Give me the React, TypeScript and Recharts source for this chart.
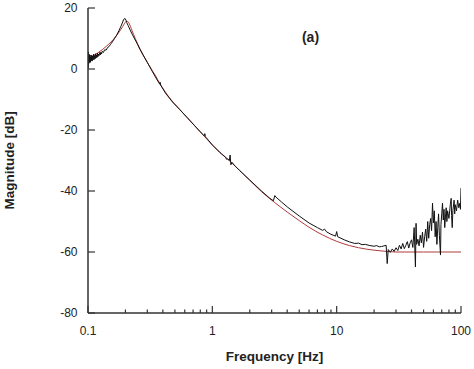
import React from 'react';
import { LineChart, Line, XAxis, YAxis, Label } from 'recharts';

// measured response (black, noisy)
const measFreq = [
  0.1, 0.1004, 0.1008, 0.1012, 0.1015, 0.102, 0.1025, 0.103, 0.104, 0.1048, 0.1055, 0.1062, 0.107, 0.108,
  0.109, 0.11, 0.111, 0.112, 0.113, 0.114, 0.115, 0.116, 0.117, 0.118, 0.119, 0.12, 0.121, 0.1225,
  0.124, 0.1255, 0.127, 0.1285, 0.13, 0.133, 0.136, 0.14, 0.144, 0.148, 0.152, 0.157, 0.163, 0.17, 0.177, 0.184,
  0.19, 0.193, 0.196, 0.199, 0.202, 0.205, 0.21, 0.22, 0.23, 0.24, 0.25, 0.262, 0.28, 0.3, 0.33, 0.36, 0.378, 0.381,
  0.384, 0.42, 0.48, 0.55, 0.63, 0.72, 0.8, 0.86, 0.87, 0.88, 1.0, 1.15, 1.28, 1.3, 1.33, 1.37, 1.39,
  1.41, 1.44, 1.5, 1.66, 2.0, 2.5, 2.9, 3.1, 3.18, 3.25, 3.6, 4.0, 5.0, 6.0, 7.0, 7.7, 8.0, 8.3, 9.0,
  9.8, 10.0, 10.2, 11.5, 12.7, 14, 15, 16, 17, 18.5, 20, 21, 22, 23, 24, 25, 25.5, 26, 27, 28, 29, 30,
  31, 32, 33, 34, 35, 36, 37, 38, 39, 40, 41, 42, 43, 43.5, 44, 45, 46, 47, 48, 49, 50, 51, 52, 53, 54,
  55, 56, 57, 58, 59, 60, 61, 62, 63, 64, 65, 66, 67, 68.4, 69, 70, 71, 72, 73, 74, 75, 76, 77, 78, 80,
  82, 83.4, 84, 85, 86, 88, 89, 90, 92, 94, 96, 98, 99, 100,
];
const measDb = [
  3.0, 0.4, 5.6, 1.6, 4.4, 2.0, 4.8, 2.4, 3.9, 2.2, 4.6, 2.7, 4.5, 2.6,
  4.3, 3.0, 4.9, 3.1, 4.4, 3.3, 5.0, 3.6, 4.6, 3.8, 5.2, 4.0, 4.9, 4.3,
  5.4, 4.6, 5.5, 4.9, 5.8, 5.4, 6.3, 6.2, 7.1, 7.4, 8.1, 8.9, 9.9, 11.1, 12.5, 14.0,
  15.4, 16.1, 16.5, 16.5, 16.0, 15.2, 14.3, 12.5, 10.9, 9.5, 8.1, 6.4, 4.3, 2.2, -0.9, -3.6, -5.0, -4.4,
  -5.3, -7.9, -10.9, -13.4, -16.0, -18.6, -20.6, -21.9, -21.2, -22.2, -24.9, -27.4, -29.0, -29.6, -29.5, -30.0, -28.2,
  -31.4, -30.6, -31.5, -33.3, -36.4, -40.1, -42.4, -43.2, -41.5, -42.0, -43.6, -45.2, -48.2, -50.5, -52.0, -52.9, -52.5, -53.4, -54.2,
  -54.8, -53.3, -55.0, -56.0, -56.7, -57.2, -57.1, -57.6, -57.5, -57.9, -58.1, -57.9, -58.3, -58.2, -58.0, -57.8, -63.8, -59.2, -60.1, -59.0, -59.8, -58.6,
  -59.5, -57.8, -59.0, -57.2, -58.9, -57.8, -56.6, -58.7, -57.0, -56.0, -58.5, -52.0, -64.9, -50.6, -57.5, -55.8, -58.0, -54.5, -57.0, -53.5, -58.5, -55.0, -52.5, -56.5, -50.0,
  -55.5, -51.0, -49.0, -53.0, -44.0, -50.5, -46.5, -55.0, -50.0, -57.5, -52.0, -47.5, -54.5, -61.0, -51.0, -47.5, -44.0, -49.5, -46.0, -52.0, -48.5, -45.5, -50.0, -46.5, -49.0,
  -44.5, -42.4, -48.0, -52.0, -46.5, -43.0, -47.5, -44.5, -46.5, -43.0, -45.5, -44.0, -46.0, -39.0,
];

// fitted model (red, smooth)
const fitFreq = [
  0.1, 0.11, 0.12, 0.13, 0.14, 0.15, 0.16, 0.17, 0.18, 0.19, 0.197, 0.203, 0.208, 0.215, 0.225, 0.24,
  0.262, 0.3, 0.35, 0.379, 0.45, 0.55, 0.7, 0.8, 1.0, 1.4, 1.66, 2.0, 2.5, 3.2, 4.0, 5.0, 6.0, 7.7, 10,
  12.7, 15, 20, 25, 30, 50, 100,
];
const fitDb = [
  3.4, 4.3, 5.3, 6.3, 7.4, 8.5, 9.7, 11.0, 12.4, 13.9, 15.0, 15.6, 15.6, 14.8, 12.8, 10.0,
  6.6, 2.1, -2.3, -4.8, -9.3, -13.4, -18.0, -20.6, -24.9, -30.4, -33.3, -36.5, -40.3, -43.9, -46.9, -49.7, -51.9, -54.4, -56.5,
  -57.9, -58.6, -59.4, -59.8, -60.0, -60.0, -60.0,
];

const xTicks = [
  0.1, 0.2, 0.3, 0.4, 0.5, 0.6, 0.7, 0.8, 0.9, 1, 2, 3, 4, 5, 6, 7, 8, 9,
  10, 20, 30, 40, 50, 60, 70, 80, 90, 100,
];
const xLabels = [0.1, 1, 10, 100];
const yTicks = [-80, -60, -40, -20, 0, 20];

const measured = measFreq.map((f, i) => ({ f, db: measDb[i] }));
const fitted = fitFreq.map((f, i) => ({ f, db: fitDb[i] }));

const axisColor = '#333';
const font = '"Liberation Sans", Arial, sans-serif';

const FreqTick = (props: any) => {
  const { x, y, payload } = props;
  const major = xLabels.includes(payload.value);
  return (
    <g>
      <line x1={x} x2={x} y1={y} y2={y - (major ? 7 : 3.5)} stroke={axisColor} strokeWidth={1.2} />
      {major && (
        <text x={x} y={y + 22} textAnchor="middle" fontSize={12} fontFamily={font} fill="#222">
          {payload.value}
        </text>
      )}
    </g>
  );
};

const DbTick = (props: any) => {
  const { x, y, payload } = props;
  return (
    <g>
      <line x1={x} x2={x + 7} y1={y} y2={y} stroke={axisColor} strokeWidth={1.2} />
      <text x={x - 10.5} y={y + 4.3} textAnchor="end" fontSize={12} fontFamily={font} fill="#222">
        {payload.value}
      </text>
    </g>
  );
};

export default function App() {
  return (
    <div style={{ position: 'fixed', left: 0, top: 0, width: 474, height: 369, background: '#fff' }}>
      <LineChart width={474} height={369} margin={{ top: 8, right: 13, bottom: 0, left: 0 }}>
        <XAxis
          dataKey="f"
          type="number"
          scale="log"
          domain={[0.1, 100]}
          ticks={xTicks}
          interval={0}
          height={56}
          tickSize={0}
          tickMargin={0}
          tickLine={false}
          tick={<FreqTick />}
          stroke={axisColor}
          strokeWidth={1.5}
          allowDataOverflow
        >
          <Label
            content={(p: any) => {
              const vb = p.viewBox;
              return (
                <text x={vb.x + vb.width / 2} y={vb.y + 48} textAnchor="middle" fontSize={13.5} fontWeight="bold" fontFamily={font} fill="#222">
                  Frequency [Hz]
                </text>
              );
            }}
          />
        </XAxis>
        <YAxis
          type="number"
          domain={[-80, 20]}
          ticks={yTicks}
          interval={0}
          width={88}
          tickSize={0}
          tickMargin={0}
          tickLine={false}
          tick={<DbTick />}
          stroke={axisColor}
          strokeWidth={1.5}
          allowDataOverflow
        >
          <Label
            content={(p: any) => {
              const vb = p.viewBox;
              const cy = vb.y + vb.height / 2;
              return (
                <text x={14} y={cy} transform={`rotate(-90, 14, ${cy})`} textAnchor="middle" fontSize={13.5} fontWeight="bold" fontFamily={font} fill="#222">
                  Magnitude [dB]
                </text>
              );
            }}
          />
        </YAxis>
        <Line data={fitted} dataKey="db" type="monotone" stroke="#b03a3a" strokeWidth={1} dot={false} isAnimationActive={false} />
        <Line data={measured} dataKey="db" type="linear" stroke="#111" strokeWidth={1} dot={false} isAnimationActive={false} />
        <text x={310.5} y={42} textAnchor="middle" fontSize={14} fontWeight="bold" fontFamily={font} fill="#222">
          (a)
        </text>
      </LineChart>
    </div>
  );
}
